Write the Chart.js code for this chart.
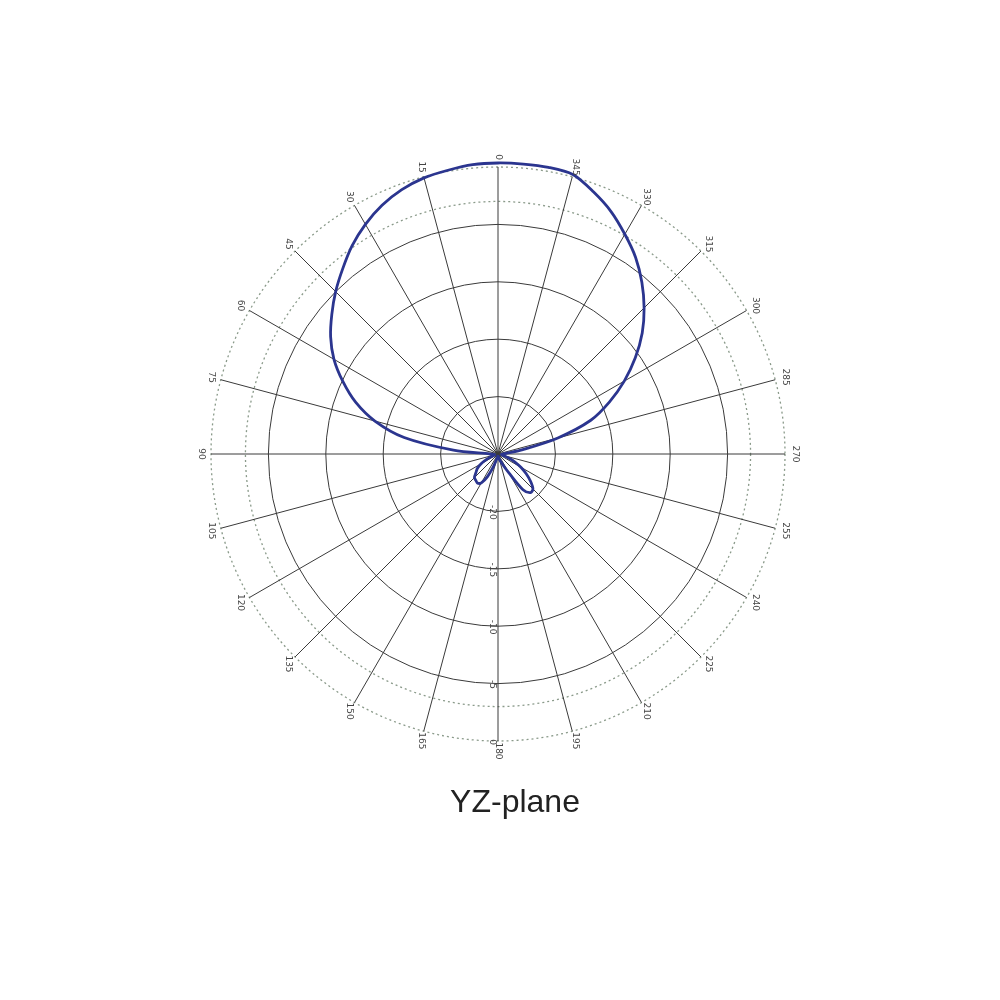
<!DOCTYPE html>
<html>
<head>
<meta charset="utf-8">
<script src="https://cdn.jsdelivr.net/npm/chart.js@4/dist/chart.umd.min.js"></script>
<style>
    body { margin: 0; background: #fff; }
    #wrap { position: relative; width: 1000px; height: 1000px; }
    #caption {
        position: absolute; left: 415px; top: 785px; width: 200px;
        text-align: center; font: 32px/32px "Liberation Sans", Arial, sans-serif; color: #222;
    }
</style>
</head>
<body>
<div id="wrap">
    <canvas id="yzPlane" width="1000" height="1000"></canvas>
    <div id="caption">YZ-plane</div>
</div>
<script>
// Angle (deg, counter-clockwise from top) and measured gain (dB)
const angles = [
    0, 5, 10, 15, 20, 25, 30, 35, 40, 45, 50, 55,
    60, 65, 70, 75, 80, 85, 90, 95, 100, 105, 110, 115,
    120, 125, 130, 135, 140, 145, 150, 155, 160, 165, 170, 175,
    180, 185, 190, 195, 200, 205, 210, 215, 220, 225, 230, 235,
    240, 245, 250, 255, 260, 265, 270, 275, 280, 285, 290, 295,
    300, 305, 310, 315, 320, 325, 330, 335, 340, 345, 350, 355
];
const gain = [
    0.35, 0.3, 0.1, -0.1, -0.5, -1.1, -1.9, -2.85, -3.95, -5.0, -6.1, -7.2,
    -8.5, -10.1, -11.8, -13.9, -16.7, -21.1, -24.3, -24.6, -24.7, -24.7, -24.5, -23.9,
    -23.3, -22.8, -22.5, -22.1, -22.0, -21.9, -22.1, -22.8, -23.8, -24.5, -24.7, -24.8,
    -24.8, -24.8, -24.7, -24.5, -24.3, -23.9, -23.1, -21.2, -20.6, -20.7, -21.3, -22.0,
    -22.7, -23.4, -24.1, -24.6, -24.7, -24.6, -24.6, -24.3, -22.8, -19.6, -16.4, -14.3,
    -12.3, -10.4, -8.6, -7.0, -5.5, -4.1, -2.9, -1.7, -0.7, 0.2, 0.35, 0.35
];
// Spoke labels and radial rings
const spokeLabels = [0, 15, 30, 45, 60, 75, 90, 105, 120, 135, 150, 165,
    180, 195, 210, 225, 240, 255, 270, 285, 300, 315, 330, 345];
const ringValues = [-20, -15, -10, -5, -3, 0];
const ringLabels = ['-20', '-15', '-10', '-5', '', '0'];
const dottedRings = [-3, 0];

// radar runs clockwise, the plot runs counter-clockwise
const order = angles.map((a, i) => (angles.length - i) % angles.length);
const radarLabels = order.map(i => String(angles[i]));
const radarData = order.map(i => gain[i]);

const labelPlugin = {
    id: 'polarText',
    afterDraw(chart) {
        const r = chart.scales.r;
        const ctx = chart.ctx;
        ctx.save();
        ctx.fillStyle = '#444';
        ctx.font = '9px "DejaVu Sans", sans-serif';
        ctx.textAlign = 'center';
        ctx.textBaseline = 'middle';

        const outer = r.getDistanceFromCenterForValue(r.max) + 10;
        spokeLabels.forEach(a => {
            const idx = radarLabels.indexOf(String(a));
            const p = r.getPointPosition(idx, outer);
            ctx.save();
            ctx.translate(p.x, p.y);
            ctx.rotate(Math.PI / 2);
            ctx.fillText(String(a), 0, 0);
            ctx.restore();
        });

        ringValues.forEach((v, i) => {
            if (!ringLabels[i]) return;
            const d = r.getDistanceFromCenterForValue(v);
            ctx.save();
            ctx.translate(r.xCenter - 6, r.yCenter + d + 1);
            ctx.rotate(Math.PI / 2);
            ctx.fillText(ringLabels[i], 0, 0);
            ctx.restore();
        });
        ctx.restore();
    }
};

const isDotted = v => dottedRings.includes(v);

new Chart(document.getElementById('yzPlane'), {
    type: 'radar',
    data: {
        labels: radarLabels,
        datasets: [{
            label: 'YZ-plane',
            data: radarData,
            borderColor: '#2b358f',
            borderWidth: 2.8,
            pointRadius: 0,
            fill: false,
            tension: 0.3,
            clip: false
        }]
    },
    options: {
        responsive: false,
        animation: false,
        layout: { padding: { left: 211, top: 167, right: 215, bottom: 259 } },
        plugins: {
            legend: { display: false },
            tooltip: { enabled: false }
        },
        scales: {
            r: {
                min: -25,
                max: 0,
                startAngle: 0,
                afterBuildTicks: scale => {
                    scale.ticks = ringValues.map(v => ({ value: v }));
                },
                ticks: { display: false },
                pointLabels: { display: false },
                angleLines: {
                    color: '#3a3a3a',
                    lineWidth: c => (c.index % 3 === 0 ? 1 : 0)
                },
                grid: {
                    circular: true,
                    color: c => (c.tick && isDotted(c.tick.value) ? '#8a9a8a' : '#3a3a3a'),
                    lineWidth: c => (c.tick && isDotted(c.tick.value) ? 1.3 : 1)
                },
                border: {
                    dash: c => (c.tick && isDotted(c.tick.value) ? [2, 3] : [])
                }
            }
        }
    },
    plugins: [labelPlugin]
});
</script>
</body>
</html>
